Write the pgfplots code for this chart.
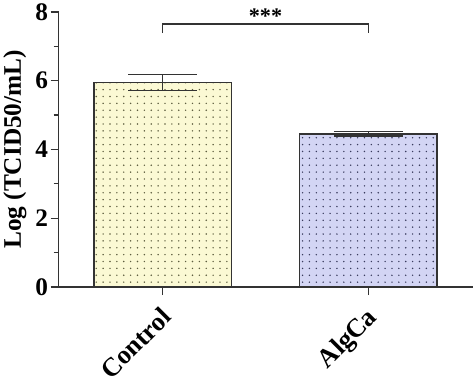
\documentclass[border=0pt]{standalone}
\usepackage{pgfplots}
\pgfplotsset{compat=1.18}
\usepackage{fontspec}
\setmainfont{Liberation Serif}
\usetikzlibrary{patterns.meta}
\definecolor{ctrlfill}{HTML}{FBF9D4}
\definecolor{ctrldot}{HTML}{5E5E40}
\definecolor{algfill}{HTML}{D3D5F4}
\definecolor{algdot}{HTML}{3A3C5E}
\definecolor{axc}{HTML}{333333}
\begin{document}
\begin{tikzpicture}
\begin{axis}[
  scale only axis, width=410pt, height=272pt,
  xmin=-0.507, xmax=1.512, ymin=0, ymax=8,
  axis lines=left, axis line style={axc, line width=1.3pt, -},
  xtick={0,1}, xticklabels={Control,AlgCa},
  x tick label style={rotate=45, anchor=north east, font=\bfseries\fontsize{26}{26}\selectfont, yshift=-2pt, xshift=-6pt},
  ytick={0,2,4,6,8}, minor ytick={1,3,5,7},
  y tick label style={font=\bfseries\fontsize{25}{25}\selectfont, xshift=1pt},
  /pgf/number format/assume math mode=true,
  tick align=outside, tick pos=left,
  major tick length=8pt, minor tick length=5pt,
  tick style={axc, line width=1.2pt},
  ylabel={\bfseries Log (TCID50/mL)},
  ylabel style={font=\bfseries\fontsize{25}{25}\selectfont, yshift=2pt},
  clip=false,
]
\addplot[ybar, bar width=136pt, draw=axc, line width=1.2pt,
  fill=ctrlfill, postaction={pattern={Dots[distance=6.8pt, radius=0.8pt]}, pattern color=ctrldot},
  error bars/.cd, y dir=both, y explicit,
  error bar style={axc, line width=1.2pt},
  error mark options={rotate=90, mark size=34pt, line width=1.2pt, axc}]
  coordinates {(0,5.95) +- (0,0.23)};
\addplot[ybar, bar width=136pt, draw=axc, line width=1.2pt,
  fill=algfill, postaction={pattern={Dots[distance=6.8pt, radius=0.8pt]}, pattern color=algdot},
  error bars/.cd, y dir=both, y explicit,
  error bar style={axc, line width=1.2pt},
  error mark options={rotate=90, mark size=34pt, line width=1.2pt, axc}]
  coordinates {(1,4.45) +- (0,0.06)};
\draw[axc, line width=1.2pt] (axis cs:0,7.38) -- (axis cs:0,7.65) -- (axis cs:1,7.65) -- (axis cs:1,7.38);
\node[font=\bfseries\fontsize{22}{22}\selectfont, anchor=south, inner sep=1pt] at (axis cs:0.5,7.62) {***};
\end{axis}
\end{tikzpicture}
\end{document}
